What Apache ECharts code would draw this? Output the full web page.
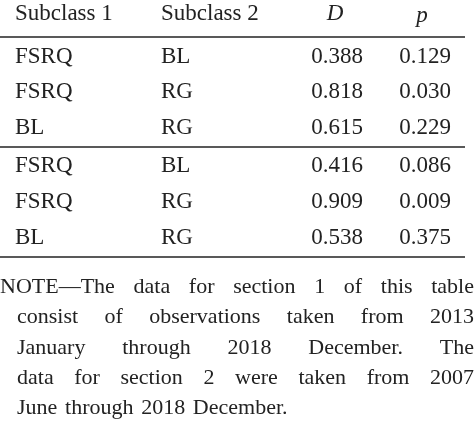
<!DOCTYPE html>
<html><head><meta charset="utf-8">
<script src="https://cdn.jsdelivr.net/npm/echarts@6/dist/echarts.min.js"></script>
<style>html,body{margin:0;padding:0;background:#fff}#c{width:474px;height:421px}</style>
</head><body><div id="c"></div>
<script>
const headers = ['Subclass 1', 'Subclass 2', 'D', 'p'];
const subclass1 = ['FSRQ', 'FSRQ', 'BL', 'FSRQ', 'FSRQ', 'BL'];
const subclass2 = ['BL', 'RG', 'RG', 'BL', 'RG', 'RG'];
const dValues = [0.388, 0.818, 0.615, 0.416, 0.909, 0.538];
const pValues = [0.129, 0.030, 0.229, 0.086, 0.009, 0.375];
const noteLines = [
  ['NOTE—The', 'data', 'for', 'section', '1', 'of', 'this', 'table'],
  ['consist', 'of', 'observations', 'taken', 'from', '2013'],
  ['January', 'through', '2018', 'December.', 'The'],
  ['data', 'for', 'section', '2', 'were', 'taken', 'from', '2007'],
  ['June', 'through', '2018', 'December.']
];

const FONT = 'Liberation Serif';
const chart = echarts.init(document.getElementById('c'), null, {renderer: 'canvas'});
const g = [];
const col = '#222';
function txt(x, y, s, align, size, italic) {
  g.push({type: 'text', x, y, style: {text: s, fill: col, fontFamily: FONT, fontSize: size,
    fontStyle: italic ? 'italic' : 'normal', align: align, verticalAlign: 'middle'}});
}
function line(y) {
  g.push({type: 'line', shape: {x1: 0, y1: y, x2: 465, y2: y}, style: {stroke: col, lineWidth: 1.3}});
}
const fs = 23;
txt(15, 14, headers[0], 'left', fs);
txt(161, 14, headers[1], 'left', fs);
txt(335, 14, headers[2], 'center', fs, true);
txt(422, 16, headers[3], 'center', fs, true);
line(37);
const rowY = [57, 92, 128, 166, 202, 238];
rowY.forEach((y, i) => {
  txt(15, y, subclass1[i], 'left', fs);
  txt(161, y, subclass2[i], 'left', fs);
  txt(363, y, dValues[i].toFixed(3), 'right', fs);
  txt(451, y, pValues[i].toFixed(3), 'right', fs);
});
line(147);
line(257);

const nfs = 22;
const cv = document.createElement('canvas').getContext('2d');
cv.font = nfs + 'px "' + FONT + '"';
const noteY = [287, 317, 348, 378, 408];
noteLines.forEach((words, i) => {
  const x0 = i === 0 ? 0 : 17, x1 = 474;
  const last = i === noteLines.length - 1;
  const widths = words.map(w => cv.measureText(w).width);
  const total = widths.reduce((a, b) => a + b, 0);
  const gap = last ? cv.measureText(' ').width * 1.4 : (x1 - x0 - total) / (words.length - 1);
  let x = x0;
  words.forEach((w, j) => { txt(x, noteY[i], w, 'left', nfs); x += widths[j] + gap; });
});

chart.setOption({animation: false, graphic: {elements: g}});
</script></body></html>
